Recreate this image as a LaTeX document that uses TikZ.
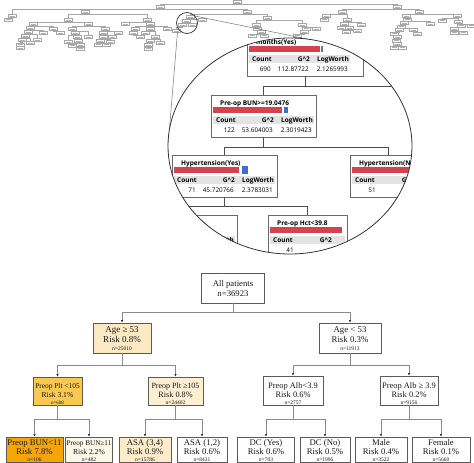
\documentclass[tikz,border=0pt]{standalone}
\usepackage{fontspec}
\setmainfont{Liberation Serif}
\newfontfamily\jmpf{Open Sans}
\usetikzlibrary{arrows.meta}
\newcommand\fsz[1]{\fontsize{#1}{#1}\selectfont}
\definecolor{boxc}{HTML}{5A5A5A}
\definecolor{linec}{HTML}{8A8A8A}
\definecolor{agec}{HTML}{FCE9C4}
\definecolor{pltlo}{HTML}{F8C850}
\definecolor{plthi}{HTML}{FDEFD2}
\definecolor{bunlo}{HTML}{F5A50A}
\definecolor{bunhi}{HTML}{FEF6E6}
\definecolor{asac}{HTML}{FDECC9}
\definecolor{jred}{HTML}{D5434E}
\definecolor{jblue}{HTML}{3F6BD6}
\definecolor{jgray}{HTML}{E3E3E3}
\definecolor{jbox}{HTML}{6A6A6A}
\definecolor{thc}{HTML}{A6A6A6}
\tikzset{
  tb/.style={draw=boxc, line width=0.65pt, inner sep=0pt},
  tl/.style={inner sep=0pt, anchor=base, text=black!90},
  conn/.style={draw=linec, line width=0.6pt, arrows={-{Latex[length=2.6pt,width=2.4pt,color=black!80]}}},
  thl/.style={draw=thc, line width=0.35pt},
  thb/.style={draw=thc, line width=0.35pt, fill=white},
  mbox/.style={draw=jbox, line width=0.6pt},
  mc/.style={draw=black!70, line width=0.6pt},
  mt/.style={font=\jmpf\bfseries\fsz{6.5}, inner sep=0pt, anchor=base west},
  mh/.style={font=\jmpf\bfseries\fsz{6.5}, inner sep=0pt},
  mv/.style={font=\jmpf\fsz{6.4}, inner sep=0pt, anchor=base east},
}
% split node of the magnified JMP tree
\newcommand\jsplit[9]{%
  \draw[mbox] (#1,#2) rectangle (#1+#3,#2+42);
  \node[mt] (#9-t) at (#1+9,#2+10.2) {#4};
  \fill[jred] (#1+2,#2+12) rectangle (#1+2+#5,#2+18);
  \fill[jgray] (#1+2,#2+21) rectangle (#1+103,#2+28.5);
  \node[mh,anchor=base west] (#9-c) at (#1+5,#2+27.2) {Count};
  \node[mh,anchor=base east] (#9-g) at (#1+63,#2+27.2) {G\textasciicircum 2};
  \node[mh,anchor=base east] (#9-l) at (#1+102,#2+27.2) {LogWorth};
  \node[mv] (#9-v1) at (#1+24,#2+37.2) {#6};
  \node[mv] (#9-v2) at (#1+62,#2+37.2) {#7};
  \node[mv] (#9-v3) at (#1+101,#2+37.2) {#8};
}
% leaf node of the magnified JMP tree
\newcommand\jleaf[7]{%
  \draw[mbox] (#1,#2) rectangle (#1+#3,#2+42);
  \node[mt] (#7-t) at (#1+9,#2+10.2) {#4};
  \fill[jred] (#1+2,#2+12) rectangle (#1+2+#5,#2+18);
  \fill[jgray] (#1+2,#2+21) rectangle (#1+#3-2,#2+28.5);
  \node[mh,anchor=base west] (#7-c) at (#1+5,#2+27.2) {Count};
  \node[mh,anchor=base east] (#7-g) at (#1+64,#2+27.2) {G\textasciicircum 2};
  \node[mv] (#7-v1) at (#1+26,#2+37.2) {#6};
}
\begin{document}
\begin{tikzpicture}[x=1pt,y=-1pt]
\useasboundingbox (0,0) rectangle (474,463);

% ---------------- overview tree (thumbnail) ----------------
\foreach \px/\py/\cx/\cy in {
 237/2/160/7, 237/2/397/7,
 160/7/12/16, 160/7/85/12, 160/7/247/12,
 12/16/8/19.5,
 85/12/68/20, 85/12/147/20,
 68/20/33/24, 68/20/88/24,
 33/24/30/28, 33/24/53/29,
 30/28/28/32, 30/28/43/33,
 28/32/25/36, 28/32/37/40,
 25/36/22/40, 25/36/30/43,
 22/40/20/44.5, 20/44.5/20/48,
 53/29/60/33,
 88/24/72/29, 88/24/105/29,
 72/29/75/33, 72/29/88/37,
 75/33/77/37, 75/33/68/42,
 77/37/78/41,
 78/41/80/45, 78/41/72/45.5,
 80/45/80/48.5,
 105/29/103/33, 105/29/118/33,
 103/33/103/37, 103/33/112/37,
 103/37/100/41, 103/37/110/42,
 100/41/98/44.5, 100/41/106/44.5,
 147/20/125/24, 147/20/150/24,
 150/24/135/29, 150/24/150/29, 150/24/167/29,
 135/29/133/33, 133/33/140/37,
 150/29/145/33, 150/29/155/37,
 155/37/150/41, 155/37/160/43,
 150/41/148/45, 148/45/148/48.5,
 247/12/190/17, 247/12/267/18,
 190/17/186/21, 190/17/202/20,
 186/21/182/25, 186/21/192/25,
 182/25/176/31,
 267/18/256/25, 267/18/302/25,
 256/25/257/28.5, 257/28.5/261/32,
 261/32/264/35.5, 261/32/252/35.5,
 302/25/306/28.5, 302/25/316/29,
 306/28.5/304/32, 304/32/297/35.5,
 397/7/342/12, 397/7/419/12,
 342/12/326/16, 342/12/347/20,
 326/16/324/19.5,
 347/20/344/24, 347/20/361/25,
 344/24/341/28, 344/24/349/28,
 349/28/346/32, 349/28/357/31,
 419/12/406/16, 419/12/457/16,
 406/16/407/19.5,
 407/19.5/404/23, 407/19.5/430/24,
 404/23/401/26.5,
 401/26.5/399/30, 401/26.5/413/30,
 399/30/394/33.5, 413/30/417/34,
 394/33.5/397/37, 397/37/396/40.5, 396/40.5/397/44,
 397/44/394/47.5, 397/44/402/47.5,
 457/16/442/20.5, 457/16/458/22,
 458/22/461/25.5, 458/22/471/25.5,
 461/25.5/454/29,
 454/29/454/32.5, 454/29/463/32.5}
 { \draw[thl] (\px,\py) -- (\px,\py+2) -| (\cx,\cy); }
\foreach \x/\y in {
 237/2, 160/7, 397/7, 12/16, 85/12, 247/12, 8/19.5, 68/20, 147/20, 33/24, 88/24,
 30/28, 53/29, 28/32, 43/33, 25/36, 37/40, 22/40, 30/43, 20/44.5, 20/48, 60/33,
 72/29, 105/29, 75/33, 88/37, 77/37, 68/42, 78/41, 80/45, 72/45.5, 80/48.5,
 103/33, 118/33, 103/37, 112/37, 100/41, 110/42, 98/44.5, 106/44.5, 125/24,
 150/24, 135/29, 150/29, 167/29, 133/33, 140/37, 145/33, 155/37, 150/41, 160/43,
 148/45, 148/48.5, 190/17, 267/18, 186/21, 202/20, 182/25, 192/25, 176/31,
 256/25, 302/25, 257/28.5, 261/32, 264/35.5, 252/35.5, 306/28.5, 316/29,
 304/32, 297/35.5, 342/12, 419/12, 326/16, 347/20, 324/19.5, 344/24, 361/25,
 341/28, 349/28, 346/32, 357/31, 406/16, 457/16, 407/19.5, 404/23, 430/24,
 401/26.5, 399/30, 413/30, 394/33.5, 417/34, 397/37, 396/40.5, 397/44,
 394/47.5, 402/47.5, 442/20.5, 458/22, 461/25.5, 471/25.5, 454/29, 454/32.5,
 463/32.5}
 { \draw[thb] (\x-4,\y-1.6) rectangle (\x+4,\y+1.6);
   \draw[black!30, line width=0.5pt] (\x-2.5,\y) -- (\x+2.5,\y); }

% ---------------- magnifier ----------------
\draw[black!80, line width=0.7pt] (187,23) circle (10.5);
\coordinate (sc1) at (177.5,32);
\coordinate (sc2) at (195,16);
\coordinate (el1) at (168,146);
\coordinate (el2) at (307,39);
\draw[black!55, line width=0.5pt] (sc1) -- (el1);
\draw[black!55, line width=0.5pt] (sc2) -- (el2);
\fill[white] (290,146) ellipse (122 and 108);
\begin{scope}
\clip (290,146) ellipse (122 and 108);
\jsplit{247}{34}{116}{months(Yes)}{71}{690}{112.87722}{2.1265993}{mo}
\fill[jblue!50!gray] (321,46) rectangle (323,52);
\jsplit{211}{95}{105}{Pre-op BUN>=19.0476}{69}{122}{53.604003}{2.3019423}{bu}
\fill[jblue] (284,107) rectangle (288,113);
\jsplit{172}{155}{105}{Hypertension(Yes)}{65}{71}{45.720766}{2.3783031}{hy}
\fill[jblue] (242,166) rectangle (247.5,174);
\jleaf{350}{155}{77}{Hypertension(No)}{73}{51}{hn}
\jsplit{132}{215}{105}{Pre-op Hct>=39.8}{30}{30}{10.553621}{1.4587601}{lf}
\jleaf{268}{215}{79}{Pre-op Hct<39.8}{72}{41}{hc}
\coordinate (moB) at (305,76);
\coordinate (moR) at (410,86);
\coordinate (buT) at (263.5,95);
\coordinate (buB) at (263.5,137);
\coordinate (hyT) at (224.5,155);
\coordinate (hyB) at (224.5,197);
\coordinate (hnT) at (388.5,155);
\coordinate (lfT) at (184.5,215);
\coordinate (hcT) at (307.5,215);
\draw[mc] (moB) -- ++(0,10) -| (buT);
\draw[mc] (moB) -- ++(0,10) -- (moR);
\draw[mc] (buB) -- ++(0,10) -| (hyT);
\draw[mc] (buB) -- ++(0,10) -| (hnT);
\draw[mc] (hyB) -- ++(0,9) -| (lfT);
\draw[mc] (hyB) -- ++(0,9) -| (hcT);
\end{scope}
\draw[black!80, line width=0.8pt] (290,146) ellipse (122 and 108);

% ---------------- main decision tree ----------------
\node[tb, fill=white, minimum width=63pt, minimum height=30pt] (all) at (233,288) {};
\node[tl, font=\fsz{8.7}] (all-a) at (233,286) {All patients};
\node[tl, font=\fsz{8.7}] (all-b) at (233,296) {n=36923};

\node[tb, fill=agec, minimum width=58pt, minimum height=30pt] (age1) at (122,338) {};
\node[tl, font=\fsz{9}] (age1-a) at (122,332.5) {Age ≥ 53};
\node[tl, font=\fsz{9}] (age1-b) at (122,342) {Risk 0.8\%};
\node[tl, font=\fsz{5.5}] (age1-c) at (122,350) {n=25010};

\node[tb, fill=white, minimum width=62pt, minimum height=30pt] (age2) at (350,338) {};
\node[tl, font=\fsz{8.8}] (age2-a) at (350,332.5) {Age < 53};
\node[tl, font=\fsz{8.8}] (age2-b) at (350,342) {Risk 0.3\%};
\node[tl, font=\fsz{5.5}] (age2-c) at (350,350) {n=11913};

\node[tb, fill=pltlo, minimum width=49pt, minimum height=28pt] (plt1) at (57.5,391) {};
\node[tl, font=\fsz{7.4}] (plt1-a) at (57.5,388) {Preop Plt <105};
\node[tl, font=\fsz{7.6}] (plt1-b) at (57.5,397) {Risk 3.1\%};
\node[tl, font=\fsz{5}] (plt1-c) at (57.5,404) {n=608};

\node[tb, fill=plthi, minimum width=55pt, minimum height=28pt] (plt2) at (175.5,391) {};
\node[tl, font=\fsz{8}] (plt2-a) at (175.5,388) {Preop Plt ≥105};
\node[tl, font=\fsz{8.2}] (plt2-b) at (175.5,397) {Risk 0.8\%};
\node[tl, font=\fsz{5.5}] (plt2-c) at (175.5,404) {n=24402};

\node[tb, fill=white, minimum width=60pt, minimum height=29pt] (alb1) at (293,390.5) {};
\node[tl, font=\fsz{8.4}] (alb1-a) at (293,388) {Preop Alb<3.9};
\node[tl, font=\fsz{8.4}] (alb1-b) at (293,397) {Risk 0.6\%};
\node[tl, font=\fsz{5.5}] (alb1-c) at (293,404) {n=2757};

\node[tb, fill=white, minimum width=58pt, minimum height=29pt] (alb2) at (409,390.5) {};
\node[tl, font=\fsz{8.4}] (alb2-a) at (409,388) {Preop Alb ≥ 3.9};
\node[tl, font=\fsz{8.4}] (alb2-b) at (409,397) {Risk 0.2\%};
\node[tl, font=\fsz{5.5}] (alb2-c) at (409,404) {n=9156};

\node[tb, fill=bunlo, minimum width=57pt, minimum height=25pt] (bun1) at (34.5,449.5) {};
\node[tl, font=\fsz{8.7}] (bun1-a) at (34.5,445.5) {Preop BUN<11};
\node[tl, font=\fsz{8.7}] (bun1-b) at (34.5,454.5) {Risk 7.8\%};
\node[tl, font=\fsz{5.5}] (bun1-c) at (34.5,461.5) {n=106};

\node[tb, fill=bunhi, minimum width=47pt, minimum height=25pt] (bun2) at (89,449.5) {};
\node[tl, font=\fsz{7.2}] (bun2-a) at (89,445.5) {Preop BUN≥11};
\node[tl, font=\fsz{7.6}] (bun2-b) at (89,454.5) {Risk 2.2\%};
\node[tl, font=\fsz{5.5}] (bun2-c) at (89,461.5) {n=482};

\node[tb, fill=asac, minimum width=52pt, minimum height=25pt] (asa1) at (145,449.5) {};
\node[tl, font=\fsz{8.7}] (asa1-a) at (145,445.5) {ASA (3,4)};
\node[tl, font=\fsz{8.7}] (asa1-b) at (145,454.5) {Risk 0.9\%};
\node[tl, font=\fsz{5.5}] (asa1-c) at (145,461.5) {n=15786};

\node[tb, fill=white, minimum width=50pt, minimum height=25pt] (asa2) at (202,449.5) {};
\node[tl, font=\fsz{8.7}] (asa2-a) at (202,445.5) {ASA (1,2)};
\node[tl, font=\fsz{8.7}] (asa2-b) at (202,454.5) {Risk 0.6\%};
\node[tl, font=\fsz{5.5}] (asa2-c) at (202,461.5) {n=8431};

\node[tb, fill=white, minimum width=57pt, minimum height=25pt] (dc1) at (266,449.5) {};
\node[tl, font=\fsz{8.7}] (dc1-a) at (266,445.5) {DC (Yes)};
\node[tl, font=\fsz{8.7}] (dc1-b) at (266,454.5) {Risk 0.6\%};
\node[tl, font=\fsz{5.5}] (dc1-c) at (266,461.5) {n=703};

\node[tb, fill=white, minimum width=50pt, minimum height=25pt] (dc2) at (325,449.5) {};
\node[tl, font=\fsz{8.7}] (dc2-a) at (325,445.5) {DC (No)};
\node[tl, font=\fsz{8.7}] (dc2-b) at (325,454.5) {Risk 0.5\%};
\node[tl, font=\fsz{5.5}] (dc2-c) at (325,461.5) {n=1996};

\node[tb, fill=white, minimum width=52pt, minimum height=25pt] (male) at (381,449.5) {};
\node[tl, font=\fsz{8.7}] (male-a) at (381,445.5) {Male};
\node[tl, font=\fsz{8.7}] (male-b) at (381,454.5) {Risk 0.4\%};
\node[tl, font=\fsz{5.5}] (male-c) at (381,461.5) {n=3522};

\node[tb, fill=white, minimum width=58pt, minimum height=25pt] (fem) at (441,449.5) {};
\node[tl, font=\fsz{8.7}] (fem-a) at (441,445.5) {Female};
\node[tl, font=\fsz{8.7}] (fem-b) at (441,454.5) {Risk 0.1\%};
\node[tl, font=\fsz{5.5}] (fem-c) at (441,461.5) {n=5660};

\draw[conn] (all.south) -- ++(0,9) -| (age1.north);
\draw[conn] (all.south) -- ++(0,9) -| (age2.north);
\draw[conn] (age1.south) -- ++(0,12) -| (plt1.north);
\draw[conn] (age1.south) -- ++(0,12) -| (plt2.north);
\draw[conn] (age2.south) -- ++(0,12) -| (alb1.north);
\draw[conn] (age2.south) -- ++(0,12) -| (alb2.north);
\draw[conn] (plt1.south) -- ++(0,14) -| (bun1.north);
\draw[conn] (plt1.south) -- ++(0,14) -| (bun2.north);
\draw[conn] (plt2.south) -- ++(0,14) -| (asa1.north);
\draw[conn] (plt2.south) -- ++(0,14) -| (asa2.north);
\draw[conn] (alb1.south) -- ++(0,14) -| (dc1.north);
\draw[conn] (alb1.south) -- ++(0,14) -| (dc2.north);
\draw[conn] (alb2.south) -- ++(0,14) -| (male.north);
\draw[conn] (alb2.south) -- ++(0,14) -| (fem.north);
\end{tikzpicture}
\end{document}
